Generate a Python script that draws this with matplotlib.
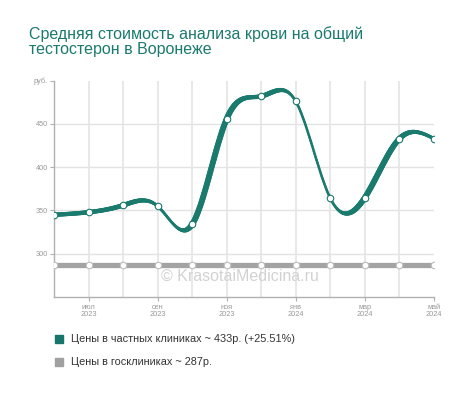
import numpy as np
import matplotlib
matplotlib.use("Agg")
import matplotlib.pyplot as plt
from matplotlib.collections import LineCollection

plt.rcParams['font.family'] = ['Liberation Sans', 'DejaVu Sans']

months = ["июн\n2023", "июл\n2023", "авг\n2023", "сен\n2023", "окт\n2023", "ноя\n2023",
          "дек\n2023", "янв\n2024", "фев\n2024", "мар\n2024", "апр\n2024", "май\n2024"]
private_prices = [345, 348, 356, 355, 334, 456, 482, 476, 364, 365, 433, 433]
public_prices = [287] * 12
yticks = [300, 350, 400, 450, 500]
ytick_labels = ["300", "350", "400", "450", "руб."]

title = "Средняя стоимость анализа крови на общий\nтестостерон в Воронеже"
legend_private = "Цены в частных клиниках ~ 433р. (+25.51%)"
legend_public = "Цены в госклиниках ~ 287р."

TEAL = "#1b7a6e"
GRAY = "#a3a3a3"


def natural_spline(x, y, n=40):
    x = np.asarray(x, float)
    y = np.asarray(y, float)
    N = len(x)
    h = np.diff(x)
    A = np.zeros((N, N))
    b = np.zeros(N)
    A[0, 0] = 1
    A[-1, -1] = 1
    for i in range(1, N - 1):
        A[i, i - 1] = h[i - 1]
        A[i, i] = 2 * (h[i - 1] + h[i])
        A[i, i + 1] = h[i]
        b[i] = 3 * ((y[i + 1] - y[i]) / h[i] - (y[i] - y[i - 1]) / h[i - 1])
    c = np.linalg.solve(A, b)
    xs, ys = [], []
    for i in range(N - 1):
        bi = (y[i + 1] - y[i]) / h[i] - h[i] * (2 * c[i] + c[i + 1]) / 3
        di = (c[i + 1] - c[i]) / (3 * h[i])
        t = np.linspace(0, h[i], n, endpoint=(i == N - 2))
        xs.append(x[i] + t)
        ys.append(y[i] + bi * t + c[i] * t ** 2 + di * t ** 3)
    return np.concatenate(xs), np.concatenate(ys)


fig = plt.figure(figsize=(4.74, 3.94), dpi=100)
ax = fig.add_axes([54 / 474, 1 - 297 / 394, 380 / 474, (297 - 80.7) / 394])

x = np.arange(len(months))
ax.set_xlim(0, len(months) - 1)
ax.set_ylim(250, 500)

# grid
for yv in yticks[:-1]:
    ax.axhline(yv, color="#e3e3e3", lw=1.0, zorder=0)
for xv in x[1:-1]:
    ax.axvline(xv, color="#e6e6e6", lw=1.3, zorder=0)

# public line
ax.plot(x, public_prices, color=GRAY, lw=3.8, zorder=2, solid_capstyle="butt")
ax.scatter(x, public_prices, s=22, facecolor="white", edgecolor="#bdbdbd", lw=0.8, zorder=3)

# private smooth line with varying width
xs, ys = natural_spline(x, private_prices)
pts = np.column_stack([xs, ys]).reshape(-1, 1, 2)
segs = np.concatenate([pts[:-1], pts[1:]], axis=1)
slope = np.diff(ys) / np.diff(xs)
widths = 3.0 + 1.2 * np.tanh(slope / 40.0)
lc = LineCollection(segs, colors=TEAL, linewidths=widths, capstyle="round", zorder=4)
ax.add_collection(lc)
ax.scatter(x, private_prices, s=22, facecolor="white", edgecolor=TEAL, lw=0.8, zorder=5)

# axes styling
for s in ["top", "right"]:
    ax.spines[s].set_visible(False)
ax.spines["left"].set_color("#b0b0b0")
ax.spines["bottom"].set_color("#b0b0b0")
ax.spines["left"].set_linewidth(1.0)
ax.spines["bottom"].set_linewidth(1.0)

ax.set_yticks(yticks)
ax.set_yticklabels(ytick_labels)
ax.tick_params(axis="y", length=3, width=0.8, color="#b0b0b0", labelsize=5.3,
               labelcolor="#999999", pad=1.5)

ax.set_xticks(x[1::2])
ax.set_xticklabels([months[i] for i in x[1::2]], linespacing=1.0)
ax.tick_params(axis="x", length=3, width=0.8, color="#b0b0b0", labelsize=5.3,
               labelcolor="#999999", pad=2)

# watermark
ax.text(0.49, 273.5, "© KrasotaiMedicina.ru", ha="center", va="center", fontsize=11.5,
        color="#d2d2d2", transform=ax.get_yaxis_transform(), zorder=1)

# title
fig.text(29 / 474, 1 - 26 / 394, title, ha="left", va="top", fontsize=11.5, color=TEAL,
         linespacing=1.0)

# legend
fig.patches.append(plt.Rectangle((55 / 474, 1 - 343 / 394), 8 / 474, 8 / 394,
                                 transform=fig.transFigure, color="#17756b", figure=fig))
fig.text(71 / 474, 1 - 339 / 394, legend_private, ha="left", va="center", fontsize=7.8, color="#333333")
fig.patches.append(plt.Rectangle((55 / 474, 1 - 366 / 394), 8 / 474, 8 / 394,
                                 transform=fig.transFigure, color="#a0a0a0", figure=fig))
fig.text(71 / 474, 1 - 362 / 394, legend_public, ha="left", va="center", fontsize=7.8, color="#333333")

fig.savefig("out.png", dpi=100)
